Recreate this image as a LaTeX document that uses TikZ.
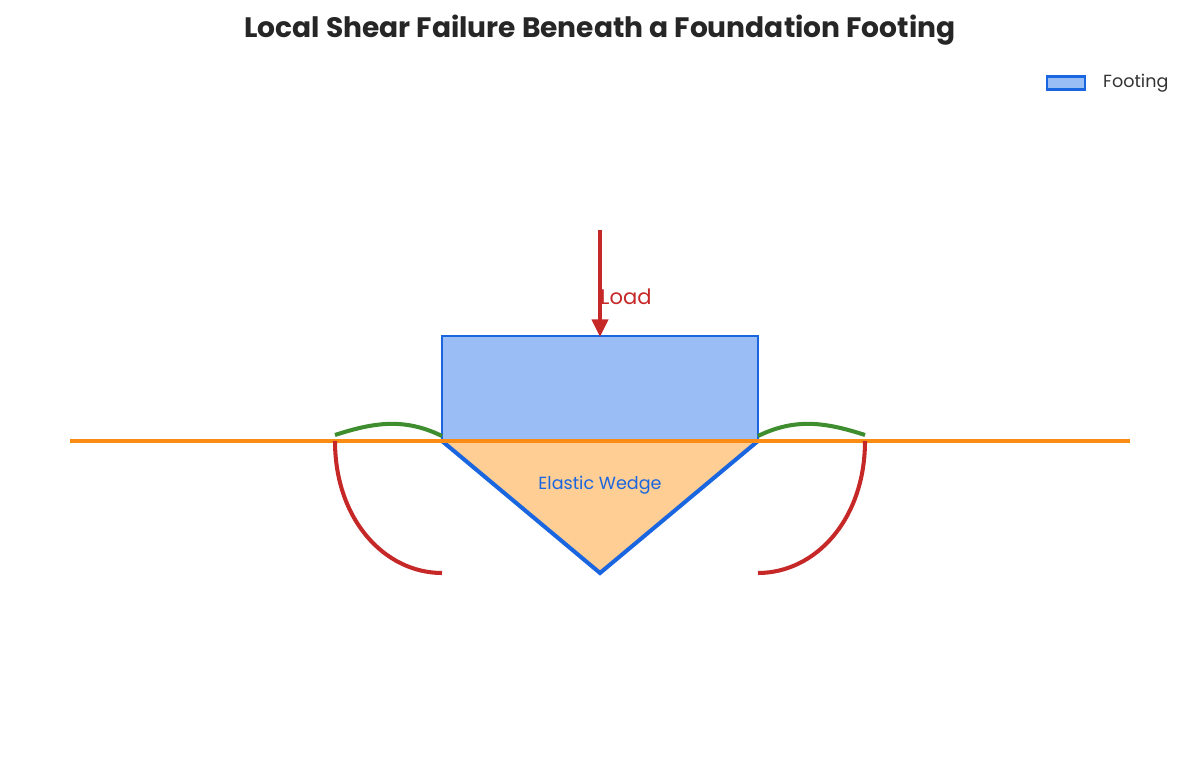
\documentclass[tikz,border=0pt]{standalone}
\usepackage{fontspec}
\setmainfont{Poppins}
\usetikzlibrary{arrows.meta}
\definecolor{footBlue}{HTML}{1A66E0}
\definecolor{footFill}{HTML}{9BBDF5}
\definecolor{wedgeFill}{HTML}{FFCE94}
\definecolor{groundOrange}{HTML}{FA8C16}
\definecolor{slipRed}{HTML}{C62828}
\definecolor{heaveGreen}{HTML}{3E8E2F}
\tikzset{
  footing/.style={draw=footBlue,fill=footFill,line width=1.2pt},
  slip/.style={draw=slipRed,line width=2.3pt},
  heave/.style={draw=heaveGreen,line width=2.3pt},
}
\begin{document}
\begin{tikzpicture}[x=0.02cm,y=-0.02cm]
    \useasboundingbox (0,0) rectangle (1200,763);
    % title
    \node[font=\bfseries\fontsize{16}{18}\selectfont,text=black!85] (title) at (600,30) {Local Shear Failure Beneath a Foundation Footing};

    % legend
    \node[footing,minimum width=0.76cm,minimum height=0.26cm,inner sep=0pt] (legBox) at (1066,83) {};
    \node[anchor=west,font=\fontsize{10}{12}\selectfont,text=black!80] (legText) at (1097,83) {Footing};

    % ground surface
    \coordinate (gL) at (70,441);
    \coordinate (gR) at (1130,441);

    % footing and wedge
    \coordinate (fTL) at (442,336);
    \coordinate (fBR) at (758,441);
    \coordinate (wL) at (442,441);
    \coordinate (wR) at (758,441);
    \coordinate (wTip) at (600,573);
    \draw[footBlue,fill=wedgeFill,line width=2.3pt,line join=miter] (wL) -- (wTip) -- (wR);
    \draw[footing] (fTL) rectangle (fBR);
    \draw[groundOrange,line width=2.3pt] (gL) -- (gR);
    \node[text=footBlue,font=\fontsize{10}{12}\selectfont] (wedge) at (600,485) {Elastic Wedge};

    % failure surfaces
    \coordinate (sL) at (335,441);
    \coordinate (eL) at (442,573);
    \coordinate (sR) at (865,441);
    \coordinate (eR) at (758,573);
    \draw[slip] (sL) .. controls (335,520) and (385,573) .. (eL);
    \draw[slip] (sR) .. controls (865,520) and (815,573) .. (eR);

    % heave
    \coordinate (hL1) at (335,435);
    \coordinate (hL2) at (442,436);
    \coordinate (hR1) at (758,436);
    \coordinate (hR2) at (865,435);
    \draw[heave] (hL1) .. controls (375,422) and (405,418) .. (hL2);
    \draw[heave] (hR1) .. controls (795,418) and (825,422) .. (hR2);

    % load
    \coordinate (loadTop) at (600,230);
    \coordinate (loadEnd) at (600,337);
    \draw[slipRed,line width=2.3pt,-{Triangle[length=10pt,width=9pt]}] (loadTop) -- (loadEnd);
    \node[text=slipRed,font=\fontsize{12}{14}\selectfont] (load) at (626,297) {Load};
\end{tikzpicture}
\end{document}
